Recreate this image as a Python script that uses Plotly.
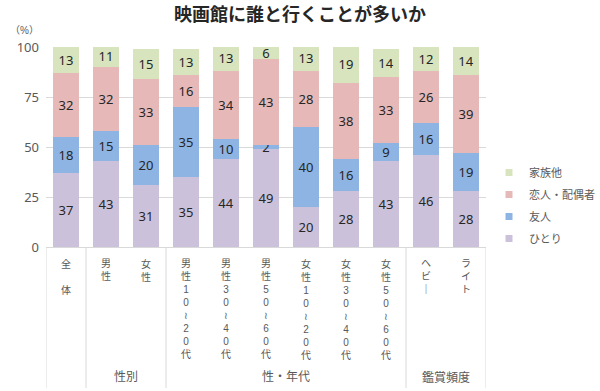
import plotly.graph_objects as go

categories = ["全　体", "男性", "女性",
              "男性10〜20代", "男性30〜40代", "男性50〜60代",
              "女性10〜20代", "女性30〜40代", "女性50〜60代",
              "ヘビー", "ライト"]
hitori = [37, 43, 31, 35, 44, 49, 20, 28, 43, 46, 28]
yujin = [18, 15, 20, 35, 10, 2, 40, 16, 9, 16, 19]
koibito = [32, 32, 33, 16, 34, 43, 28, 38, 33, 26, 39]
kazoku = [13, 11, 15, 13, 13, 6, 13, 19, 14, 12, 14]
series_names = ["ひとり", "友人", "恋人・配偶者", "家族他"]
series_colors = ["#CCC1DA", "#8EB4E3", "#E6B9B8", "#D7E4BD"]
groups = [("性別", 1.5), ("性・年代", 5.5), ("鑑賞頻度", 9.5)]
separators = [-0.5, 0.5, 2.5, 8.5, 10.5]
yticks = [0, 25, 50, 75, 100]

JP = "Noto Sans CJK JP"
LBL = "Liberation Sans, Noto Sans CJK JP"
NUM = "Noto Sans, Noto Sans CJK JP"
GRAY = "#595959"

fig = go.Figure()
series = list(zip(series_names, [hitori, yujin, koibito, kazoku], series_colors))
for name, vals, col in series:
    fig.add_trace(go.Bar(
        x=categories, y=vals, name=name, marker=dict(color=col, line=dict(width=0)),
        text=[str(v) for v in vals], textposition="inside", insidetextanchor="middle",
        textangle=0, constraintext="none",
        textfont=dict(family=NUM, size=13, color="#262626"),
        showlegend=False, hoverinfo="skip"))
# legend entries (top entry = last stacked series)
for name, vals, col in reversed(series):
    fig.add_trace(go.Scatter(
        x=[None], y=[None], mode="markers", name=name, legendgroup=name,
        marker=dict(symbol="square", size=7, color=col)))

W, HT = 600, 391
PL, PR, PT, PB = 46, 486, 47, 247   # plot area in page pixels
L, R, T, B = PL, W - PR, PT, HT - PB

def py(pix):
    return (PB - pix) / (PB - PT)

def px(pix):
    return (pix - PL) / (PR - PL)

ann = []
disp = {"〜": "≀", "ー": "｜"}
for cat in categories:
    txt = "<br>".join(disp.get(ch, ch) for ch in cat)
    ann.append(dict(x=cat, xref="x", y=py(256), yref="paper",
                    text=txt, showarrow=False,
                    font=dict(family=LBL, size=10, color=GRAY),
                    xanchor="center", yanchor="top", align="center"))
for g, gx in groups:
    ann.append(dict(x=gx, xref="x", y=py(377), yref="paper", text=g, showarrow=False,
                    font=dict(family=LBL, size=12, color=GRAY),
                    xanchor="center", yanchor="middle"))
ann.append(dict(x=px(24), xref="paper", y=py(30), yref="paper", text="（%）", showarrow=False,
                font=dict(family=LBL, size=10, color=GRAY), xanchor="center", yanchor="middle"))

shapes = [dict(type="line", x0=s, x1=s, xref="x", y0=0, y1=py(388), yref="paper",
               line=dict(color="#D9D9D9", width=1)) for s in separators]

fig.update_layout(
    width=W, height=HT,
    margin=dict(l=L, r=R, t=T, b=B, autoexpand=False),
    paper_bgcolor="white", plot_bgcolor="white",
    barmode="stack", bargap=0.35,
    title=dict(text="<b>映画館に誰と行くことが多いか</b>", x=0.5, xref="container",
               y=1 - 15 / HT, yref="container", xanchor="center", yanchor="middle",
               font=dict(family=JP, size=18, color="#262626")),
    xaxis=dict(showticklabels=False, showgrid=False, zeroline=False, showline=False,
               range=[-0.5, 10.5], fixedrange=True),
    yaxis=dict(range=[0, 100], tickvals=yticks, showgrid=True, gridcolor="#D9D9D9",
               gridwidth=1, zeroline=True, zerolinecolor="#D9D9D9", zerolinewidth=1,
               showline=False, ticks="", ticklabelstandoff=6, automargin=False,
               tickfont=dict(family=NUM, size=13, color=GRAY)),
    legend=dict(x=px(489), xanchor="left", y=py(158), yanchor="top", traceorder="grouped",
                font=dict(family=JP, size=11, color=GRAY), bgcolor="rgba(0,0,0,0)",
                itemwidth=30, tracegroupgap=3),
    annotations=ann, shapes=shapes,
    uniformtext=dict(mode="show", minsize=13),
)
fig.write_html("out.html", config={"displayModeBar": False},
               post_script="document.body.style.margin='0';document.body.style.overflow='hidden';")
